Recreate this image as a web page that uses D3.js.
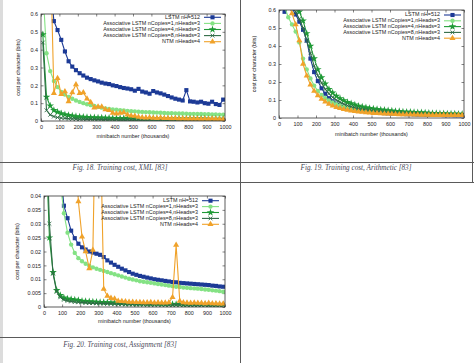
<!DOCTYPE html>
<html><head><meta charset="utf-8">
<script src="https://cdn.jsdelivr.net/npm/d3@7"></script>
<style>body{margin:0;background:#fff}</style>
</head><body>
<svg id="c" width="474" height="363"></svg>
<script>
// ---------- DATA ----------
const steps = [10,30,50,70,90,110,130,150,170,190,210,230,250,270,290,310,330,350,370,390,
  410,430,450,470,490,510,530,550,570,590,610,630,650,670,690,710,730,750,770,790,
  810,830,850,870,890,910,930,950,970,990];
const seriesNames = ["LSTM nH=512","Associative LSTM nCopies=1,nHeads=3","Associative LSTM nCopies=4,nHeads=3","Associative LSTM nCopies=8,nHeads=3","NTM nHeads=4"];
const xTicks = [0,100,200,300,400,500,600,700,800,900,1000];
const xTickLabels = ["0","100","200","300","400","500","600","700","800","900","1000"];
const yTicksA = [0,0.1,0.2,0.3,0.4,0.5,0.6];
const yTickLabelsA = ["0","0.1","0.2","0.3","0.4","0.5","0.6"];
const yTicksB = [0,0.005,0.01,0.015,0.02,0.025,0.03,0.035,0.04];
const yTickLabelsB = ["0","0.005","0.01","0.015","0.02","0.025","0.03","0.035","0.04"];
const captions = ["Fig. 18. Training cost, XML [83]","Fig. 19. Training cost, Arithmetic [83]","Fig. 20. Training cost, Assignment [83]"];

// XML
const xmlLSTM = [1.5,1.1,0.8,0.56,0.51,0.455,0.39,0.335,0.305,0.285,
  0.268,0.255,0.243,0.235,0.228,0.222,0.215,0.21,0.207,0.2,
  0.196,0.19,0.185,0.182,0.178,0.17,0.18,0.165,0.16,0.153,
  0.168,0.16,0.155,0.148,0.14,0.132,0.125,0.12,0.115,0.173,
  0.11,0.108,0.104,0.108,0.1,0.097,0.108,0.095,0.09,0.12];
const xmlAssoc1 = [0.75,0.38,0.28,0.225,0.19,0.163,0.148,0.135,0.125,0.115,
  0.107,0.1,0.094,0.089,0.084,0.079,0.075,0.071,0.068,0.065,
  0.063,0.061,0.059,0.057,0.055,0.054,0.052,0.051,0.05,0.049,
  0.048,0.047,0.046,0.045,0.044,0.044,0.043,0.042,0.042,0.041,
  0.04,0.04,0.039,0.039,0.038,0.038,0.037,0.037,0.036,0.036];
const xmlAssoc4 = [0.485,0.135,0.085,0.06,0.05,0.042,0.036,0.032,0.029,0.026,
  0.024,0.022,0.021,0.02,0.019,0.018,0.018,0.017,0.017,0.016,
  0.016,0.016,0.015,0.015,0.015,0.015,0.014,0.014,0.014,0.014,
  0.014,0.013,0.013,0.013,0.013,0.013,0.013,0.012,0.012,0.012,
  0.012,0.012,0.012,0.012,0.012,0.011,0.011,0.011,0.011,0.011];
const xmlAssoc8 = [0.44,0.06,0.035,0.025,0.02,0.017,0.015,0.013,0.012,0.011,
  0.01,0.0095,0.009,0.0085,0.008,0.008,0.0075,0.0075,0.007,0.007,
  0.007,0.0065,0.0065,0.0065,0.006,0.006,0.006,0.006,0.006,0.0055,
  0.0055,0.0055,0.0055,0.0055,0.005,0.005,0.005,0.005,0.005,0.005,
  0.005,0.005,0.005,0.0045,0.0045,0.0045,0.0045,0.0045,0.0045,0.0045];
const xmlNTM = [1.2,1.1,1.0,0.155,0.24,0.15,0.165,0.11,0.16,0.205,
  0.155,0.16,0.125,0.105,0.075,0.08,0.08,0.065,0.06,0.045,
  0.04,0.045,0.048,0.035,0.03,0.028,0.022,0.02,0.018,0.02,
  0.017,0.016,0.018,0.015,0.016,0.014,0.015,0.013,0.014,0.012,
  0.013,0.012,0.013,0.011,0.012,0.011,0.012,0.011,0.011,0.01];

// Arithmetic
const arLSTM = [0.8,0.59,0.63,0.61,0.575,0.535,0.49,0.43,0.33,0.255,
  0.205,0.165,0.135,0.11,0.093,0.08,0.07,0.062,0.055,0.05,
  0.045,0.042,0.039,0.036,0.034,0.032,0.03,0.029,0.027,0.026,
  0.025,0.024,0.023,0.022,0.021,0.021,0.02,0.019,0.019,0.018,
  0.018,0.017,0.017,0.017,0.016,0.016,0.016,0.015,0.015,0.015];
const arAssoc1 = [0.75,0.62,0.56,0.52,0.48,0.42,0.33,0.27,0.22,0.18,
  0.15,0.128,0.11,0.097,0.086,0.077,0.07,0.063,0.058,0.053,
  0.049,0.046,0.043,0.04,0.038,0.036,0.034,0.032,0.031,0.03,
  0.029,0.028,0.027,0.026,0.025,0.024,0.024,0.023,0.022,0.022,
  0.021,0.021,0.02,0.02,0.019,0.019,0.019,0.018,0.018,0.018];
const arAssoc4 = [0.9,0.8,0.72,0.66,0.62,0.59,0.54,0.47,0.4,0.33,
  0.27,0.225,0.19,0.16,0.14,0.122,0.108,0.097,0.088,0.08,
  0.073,0.067,0.062,0.058,0.054,0.051,0.048,0.046,0.044,0.042,
  0.04,0.038,0.037,0.035,0.034,0.033,0.032,0.031,0.03,0.029,
  0.028,0.027,0.026,0.025,0.025,0.024,0.023,0.023,0.022,0.022];
const arAssoc8 = [0.85,0.75,0.68,0.63,0.59,0.55,0.5,0.43,0.36,0.29,
  0.235,0.195,0.16,0.135,0.115,0.1,0.088,0.078,0.07,0.063,
  0.057,0.052,0.048,0.045,0.042,0.039,0.037,0.035,0.033,0.031,
  0.03,0.029,0.027,0.026,0.025,0.024,0.023,0.023,0.022,0.021,
  0.021,0.02,0.019,0.019,0.018,0.018,0.017,0.017,0.016,0.016];
const arNTM = [0.9,0.75,0.65,0.58,0.52,0.43,0.3,0.235,0.185,0.15,
  0.125,0.105,0.09,0.078,0.068,0.06,0.054,0.049,0.045,0.041,
  0.038,0.035,0.033,0.031,0.029,0.027,0.026,0.025,0.024,0.023,
  0.022,0.021,0.02,0.02,0.019,0.019,0.018,0.018,0.017,0.017,
  0.017,0.016,0.016,0.016,0.016,0.015,0.015,0.015,0.015,0.015];

// Assignment
const asLSTM = [0.2,0.15,0.1,0.07,0.05,0.0365,0.032,0.0275,0.0248,0.0228,
  0.0215,0.0207,0.02,0.0196,0.0192,0.0188,0.018,0.0168,0.016,0.0152,
  0.0145,0.0138,0.0132,0.0126,0.012,0.0116,0.0112,0.0109,0.0106,0.0103,
  0.01,0.0098,0.0096,0.0094,0.0092,0.009,0.0089,0.0087,0.0086,0.0085,
  0.0084,0.0083,0.0082,0.0081,0.008,0.0079,0.0077,0.0076,0.0074,0.0073];
const asAssoc1 = [0.3,0.2,0.12,0.07,0.045,0.0338,0.0268,0.0225,0.0195,0.0176,
  0.0165,0.0156,0.0149,0.0143,0.0138,0.0134,0.013,0.0126,0.0122,0.0118,
  0.0114,0.011,0.0106,0.0102,0.0099,0.0096,0.0093,0.0091,0.0089,0.0087,
  0.0085,0.0083,0.0081,0.0079,0.0077,0.0075,0.0073,0.0072,0.007,0.0069,
  0.0068,0.0067,0.0066,0.0065,0.0063,0.0062,0.006,0.0059,0.0057,0.0055];
const asAssoc4 = [0.06,0.025,0.0125,0.006,0.0042,0.0033,0.003,0.0028,0.0026,0.0024,
  0.0022,0.0021,0.002,0.0019,0.0018,0.0017,0.0017,0.0016,0.0015,0.0015,
  0.0014,0.0014,0.0013,0.0013,0.0013,0.0012,0.0012,0.0012,0.0011,0.0011,
  0.0011,0.0011,0.001,0.001,0.001,0.001,0.001,0.001,0.0009,0.0009,
  0.0009,0.0009,0.0009,0.0009,0.0009,0.0008,0.0008,0.0008,0.0008,0.0008];
const asAssoc8 = [0.07,0.03,0.012,0.0055,0.0035,0.0026,0.0022,0.002,0.0018,0.0017,
  0.0016,0.0015,0.0014,0.0014,0.0013,0.0013,0.0012,0.0012,0.0012,0.0011,
  0.0011,0.0011,0.001,0.001,0.001,0.001,0.001,0.0009,0.0009,0.0009,
  0.0009,0.0009,0.0009,0.0008,0.0008,0.0008,0.0008,0.0008,0.0008,0.0008,
  0.0007,0.0007,0.0007,0.0007,0.0007,0.0007,0.0007,0.0007,0.0007,0.0007];
const asNTM = [0.3,0.25,0.2,0.17,0.14,0.12,0.1,0.08,0.06,0.038,
  0.0253,0.02,0.0139,0.0205,0.09,0.07,0.0065,0.004,0.0032,0.003,
  0.0022,0.0021,0.002,0.0018,0.0018,0.0017,0.0017,0.0016,0.0016,0.0017,
  0.0015,0.0016,0.0015,0.0015,0.0016,0.0035,0.0223,0.0022,0.0016,0.0015,
  0.0014,0.0015,0.0014,0.0014,0.0013,0.0014,0.0013,0.0013,0.0012,0.0012];

// ---------- STYLE ----------
const colors = ["#1c3a96","#84e284","#1f9a36","#2f6b45","#f0a22a"];
const svg = d3.select("#c");
const FONT = "'Liberation Sans', Arial, sans-serif";

function marker(kind) {
  if (kind === "x") { const h = 1.9; return `M${-h},${-h}L${h},${h}M${-h},${h}L${h},${-h}`; }
  const t = {square:[d3.symbolSquare,17], circle:[d3.symbolCircle,15], star:[d3.symbolStar,18], tri:[d3.symbolTriangle,16]}[kind];
  return d3.symbol(t[0], t[1])();
}
const kinds = ["square","circle","star","x","tri"];

function drawMarker(g, kind, color, cx, cy) {
  const p = g.append("path").attr("d", marker(kind)).attr("transform", `translate(${cx},${cy})`);
  if (kind === "x") p.attr("fill","none").attr("stroke",color).attr("stroke-width",0.9);
  else p.attr("fill",color).attr("stroke","none");
}

// ---------- LAYOUT (separators) ----------
svg.append("rect").attr("x",0).attr("y",0).attr("width",3).attr("height",363).attr("fill","#dcdcdc");
const sep = svg.append("g").attr("stroke","#5a5a5a").attr("stroke-width",1);
sep.append("line").attr("x1",240.5).attr("x2",240.5).attr("y1",0).attr("y2",363);
sep.append("line").attr("x1",472.5).attr("x2",472.5).attr("y1",0).attr("y2",182);
sep.append("line").attr("x1",0).attr("x2",474).attr("y1",162.5).attr("y2",162.5);
sep.append("line").attr("x1",0).attr("x2",474).attr("y1",182.5).attr("y2",182.5);
sep.append("line").attr("x1",0).attr("x2",240).attr("y1",337.5).attr("y2",337.5);

const capPos = [[120,170],[356,170],[120,346.5]];
captions.forEach((c,i)=>{
  svg.append("text").attr("x",capPos[i][0]).attr("y",capPos[i][1]).attr("text-anchor","middle")
    .attr("font-family","'Liberation Serif', 'Times New Roman', serif").attr("font-style","italic")
    .attr("font-size",7.2).attr("fill","#4a4a5a").text(c);
});

// ---------- PANELS ----------
const panels = [
  {key:"xml", x0:41, x1:225, y0:14, y1:121, ymax:0.6, yTicks:yTicksA, yLabels:yTickLabelsA,
   data:[xmlLSTM,xmlAssoc1,xmlAssoc4,xmlAssoc8,xmlNTM], ylabX:19, xlabY:138,
   legX:200, legY:17.3, legStep:6.1},
  {key:"ar", x0:279, x1:464, y0:10, y1:118, ymax:0.6, yTicks:yTicksA, yLabels:yTickLabelsA,
   data:[arLSTM,arAssoc1,arAssoc4,arAssoc8,arNTM], ylabX:255, xlabY:136,
   legX:440, legY:15, legStep:5.8},
  {key:"as", x0:44, x1:225, y0:196, y1:307, ymax:0.04, yTicks:yTicksB, yLabels:yTickLabelsB,
   data:[asLSTM,asAssoc1,asAssoc4,asAssoc8,asNTM], ylabX:18, xlabY:323,
   legX:198, legY:200.7, legStep:5.9}
];

panels.forEach(p=>{
  const x = d3.scaleLinear().domain([0,1000]).range([p.x0,p.x1]);
  const y = d3.scaleLinear().domain([0,p.ymax]).range([p.y1,p.y0]);
  const g = svg.append("g");
  svg.append("clipPath").attr("id","clip-"+p.key).append("rect")
    .attr("x",p.x0).attr("y",p.y0).attr("width",p.x1-p.x0).attr("height",p.y1-p.y0);

  const styleAxis = sel => { sel.select(".domain").remove(); sel.selectAll("line").attr("stroke","#333").attr("stroke-width",0.6);
    sel.selectAll("text").attr("font-family",FONT).attr("font-size",5.4).attr("fill","#222"); };
  g.append("g").attr("transform",`translate(0,${p.y1})`)
    .call(d3.axisBottom(x).tickValues(xTicks).tickFormat((d,i)=>xTickLabels[i]).tickSize(-2.5).tickPadding(4)).call(styleAxis);
  g.append("g").attr("transform",`translate(0,${p.y0})`)
    .call(d3.axisTop(x).tickValues(xTicks).tickFormat("").tickSize(-2.5)).call(styleAxis);
  g.append("g").attr("transform",`translate(${p.x0},0)`)
    .call(d3.axisLeft(y).tickValues(p.yTicks).tickFormat((d,i)=>p.yLabels[i]).tickSize(-2.5).tickPadding(3)).call(styleAxis);
  g.append("g").attr("transform",`translate(${p.x1},0)`)
    .call(d3.axisRight(y).tickValues(p.yTicks).tickFormat("").tickSize(-2.5)).call(styleAxis);

  g.append("text").attr("transform",`translate(${p.ylabX},${(p.y0+p.y1)/2}) rotate(-90)`)
    .attr("text-anchor","middle").attr("dominant-baseline","middle")
    .attr("font-family",FONT).attr("font-size",5.4).attr("fill","#222").text("cost per character (bits)");
  g.append("text").attr("x",(p.x0+p.x1)/2).attr("y",p.xlabY).attr("text-anchor","middle")
    .attr("font-family",FONT).attr("font-size",5.4).attr("fill","#222").text("minibatch number (thousands)");

  const cg = g.append("g").attr("clip-path",`url(#clip-${p.key})`);
  const line = d3.line().x((d,i)=>x(steps[i])).y(d=>y(d));
  p.data.forEach((vals,si)=>{
    cg.append("path").datum(vals).attr("d",line).attr("fill","none")
      .attr("stroke",colors[si]).attr("stroke-width",1.1);
    vals.forEach((v,i)=>{
      if (v <= p.ymax*1.05) drawMarker(cg, kinds[si], colors[si], x(steps[i]), y(v));
    });
  });

  g.append("rect").attr("x",p.x0).attr("y",p.y0).attr("width",p.x1-p.x0).attr("height",p.y1-p.y0)
    .attr("fill","none").attr("stroke","#333").attr("stroke-width",0.8);

  seriesNames.forEach((n,si)=>{
    const ly = p.legY + si*p.legStep;
    g.append("text").attr("x",p.legX).attr("y",ly).attr("text-anchor","end").attr("dominant-baseline","middle")
      .attr("font-family",FONT).attr("font-size",5.4).attr("fill","#222").text(n);
    g.append("line").attr("x1",p.legX+4).attr("x2",p.legX+21).attr("y1",ly).attr("y2",ly)
      .attr("stroke",colors[si]).attr("stroke-width",1.1);
    drawMarker(g, kinds[si], colors[si], p.legX+12.5, ly);
  });
});
</script>
</body></html>
